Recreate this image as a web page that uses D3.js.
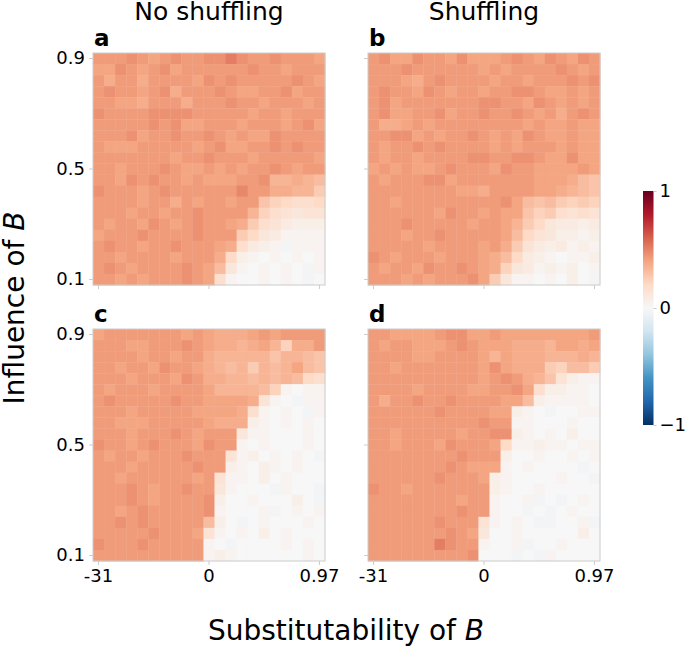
<!DOCTYPE html>
<html>
<head>
  <meta charset="utf-8">
  <title>Influence vs substitutability</title>
  <style>
    body { margin: 0; background: #fff; font-family: "DejaVu Sans", sans-serif; }
    svg { display: block; }
  </style>
</head>
<body>
  <svg width="685" height="646"></svg>
  <script src="https://d3js.org/d3.v7.min.js"></script>
  <script>
    // column categories (substitutability) and row categories (influence)
    const xIndex = [0, 1, 2, 3, 4, 5, 6, 7, 8, 9, 10, 11, 12, 13, 14, 15, 16, 17, 18, 19, 20];
    const yValues = [0.1, 0.14, 0.18, 0.22, 0.26, 0.3, 0.34, 0.38, 0.42, 0.46, 0.5,
                     0.54, 0.58, 0.62, 0.66, 0.7, 0.74, 0.78, 0.82, 0.86, 0.9];
    const xTickIndex = [0, 10, 20];
    const xTickLabels = ["-31", "0", "0.97"];
    const yTickValues = [0.1, 0.5, 0.9];
    const colTitles = ["No shuffling", "Shuffling"];
    const panelLetters = ["a", "b", "c", "d"];

    // one char per cell: 'c' = 0, each letter step ~0.0285
    const levels = "abcdefghijklmnopqrstuvw";
    const levelStep = 0.0285;

    // rows listed top (0.9) to bottom (0.1)
    const panelA = [
      "rrrsrqrsrrssusrrsrrrq",
      "qqsrqrsqrrrrrrsrrqrrr",
      "rprrprrrrqsrsrrrrrsrq",
      "rsrrqrsprrrsrqqrrsqrr",
      "rrqqprrrprrrsrrqrrrqr",
      "srrrrssssrrrrrqrrqrrr",
      "rrrrrsrsqqrrrqrrrqrsq",
      "rrrsqrrsrrsrqrqqsrrrr",
      "rqqqrrrrrqrsqqrrsrsrr",
      "rrrrrrrqrrsrrrqrrrrrq",
      "rrqrrrsrqqrqrqrrsrqrr",
      "rrqsrsrrqrqqqrrsoopon",
      "srrrqrsrrrrrrtrrppool",
      "rrrrqrrprqrrqrrmkjiij",
      "rrrqrrqrrsrrrrokihghh",
      "rqrrqsrqrsrrqplihfeee",
      "qrrrsrrrrsrrrljgfdddd",
      "rsrrqrrsrrrqpifedbddd",
      "rrqrrrrqrrrpjedcdcdcd",
      "rsrqrrrrsrqngdcdcdcbd",
      "rrqrqrrrsrqidccdcdcbc"
    ];
    const panelB = [
      "rsqqsrrqsqqqrsrqsrqsr",
      "rrrsrrrrrrqrqrrrrsrqr",
      "rrrqprsrrrrqrrqrrrsrs",
      "rsrrqsrqrrqrrssrqqrqr",
      "rsqrrrrrrrssrrqsrqrqr",
      "rsqqrrsqrrsrrsrqrprsr",
      "rppqrqrrrrrrrrqrqqrqq",
      "rrssqrqrrsrqrqsrqqrqq",
      "rqrrsrsrrrrqrqrrrqrqq",
      "rqrrqrrrrssrrssrqqsqq",
      "qrqrqqrsrrrqsrrqqqqrq",
      "rqrrrssqrrrrrrrqqqpnm",
      "rrrrrrrrqqprrrrqqponm",
      "rrqrrrrrrrrrsqnmnlklk",
      "rrrrrrqsrrqrqqmklihih",
      "rrrsrrrrrqrrqoljgffef",
      "rrrqrrsrrrrrqnjhgeede",
      "rrrrrqrrrrqrplhfefded",
      "srqrrrqrrrqpnjfedcdde",
      "rqrrqsrrsrqpkgfdedecd",
      "rrrqrqrrrsqlgddcdcecb"
    ];
    const panelC = [
      "qrrrrrrrqrqpppqrqrrrr",
      "rrrqqrrrsrqppopqokppr",
      "rrrrqrrqrrpooooomoonm",
      "rrqrrqsrrqponolonoqnm",
      "rrrqrrrqsrppoononononji".slice(0, 19) + "ji",
      "rqrrrqrrrrqoooonkdcdd",
      "rsrrrrrsrrqqqqphdcbdd",
      "rrrqrrrrrqqqqpidcdcbd",
      "rrqqqrrrrrqpppedcdcdc",
      "rrrqrrrsrqrrrgddcccdc",
      "srrqrsrrrqsrrdcdcccdc",
      "rqrrqrrrsrrrhdecdcdcb",
      "rrrqrrrrrsrredcedcdcc",
      "rrqrrrrrrqrhddcecdccc",
      "rrrsrqrrsrrgdcccbdccb",
      "rrrsrqrrrrseccdcccecb",
      "rrqrsrrrrrsdcccdbcdcd",
      "rrsrsrrrrrnecbcdcccdc",
      "rrrrrsrrrqhdcdcecdccc",
      "srrrsrrrrrdcbccccdcdc",
      "rrrrrrrrrrdedccccccdc"
    ];
    const panelD = [
      "rrqqqqrssqqrqqqqqqqqr",
      "rqrrqqqrsrqqqpppoqqpq",
      "rrrrqqrrrrqoqpppooopo",
      "rrqrrrrrrrqsqppplknnl",
      "rrrrrrrrrrqrsrpomhedd",
      "rrrrqrrrrqqrrsqieeddc",
      "rprrsrrsrrrrqqneddddc",
      "rrrrrrsrrrrqqedcbccdd",
      "rrrrrrrrrrsrrddcccdcc",
      "rrqrrrrrqrrssedcdcecc",
      "rrqrrrqsrrrqjddeddcdd",
      "rrrrrrrrsrrreccdccdcd",
      "rrrrrrrsrqqqdcdccccbc",
      "rrrrrrsrrrqedccccdccb",
      "srrqrrrrrrredccdccccc",
      "rrrrrrrrqrrdccdbcbcdc",
      "rrrrrrrrsrrdccbcbcdcc",
      "rrrrrrsrrrhdcdcbbccdb",
      "rrrrrrrsrqgccdcccccec",
      "rrrrrrusrrdccdbccdccc",
      "rrrrrrrrrscccbcbdcccc"
    ];
    const panels = [panelA, panelB, panelC, panelD];

    const svg = d3.select("svg");
    const size = 232;
    const lefts = [93, 368];
    const tops = [53, 329];
    const gridGrey = "#cccccc";

    // piecewise-linear RdBu, reversed (1 = dark red, -1 = dark blue)
    const rdbu = d3.schemeRdBu[11];
    const color = d3.scaleLinear()
      .domain(rdbu.map((_, i) => 1 - i * 0.2))
      .range(rdbu)
      .interpolate(d3.interpolateRgb)
      .clamp(true);

    const x = d3.scaleBand().domain(xIndex).range([0, size]);
    const y = d3.scaleBand().domain(yValues).range([size, 0]);

    const toValue = ch => (levels.indexOf(ch) - 2) * levelStep;

    panels.forEach((rows, p) => {
      const col = p % 2, row = Math.floor(p / 2);
      const g = svg.append("g")
        .attr("transform", `translate(${lefts[col]},${tops[row]})`);

      const cells = [];
      rows.forEach((str, r) => {
        const yv = yValues[yValues.length - 1 - r];
        str.split("").forEach((ch, c) => cells.push({ x: xIndex[c], y: yv, v: toValue(ch) }));
      });

      g.selectAll("rect.cell")
        .data(cells).enter()
        .append("rect")
        .attr("class", "cell")
        .attr("x", d => x(d.x))
        .attr("y", d => y(d.y))
        .attr("width", x.bandwidth() + 0.4)
        .attr("height", y.bandwidth() + 0.4)
        .attr("fill", d => color(d.v));

      g.append("rect")
        .attr("width", size).attr("height", size)
        .attr("fill", "none").attr("stroke", gridGrey).attr("stroke-width", 1);

      const xAxis = d3.axisBottom(x)
        .tickValues(xTickIndex)
        .tickSize(4).tickPadding(4)
        .tickFormat(d => row === 1 ? xTickLabels[xTickIndex.indexOf(d)] : "");
      const yAxis = d3.axisLeft(y)
        .tickValues(yTickValues)
        .tickSize(4).tickPadding(4)
        .tickFormat(d => col === 0 ? d3.format(".1f")(d) : "");

      [g.append("g").attr("transform", `translate(0,${size})`).call(xAxis),
       g.append("g").call(yAxis)].forEach(ax => {
        ax.attr("font-family", null).attr("font-size", null);
        ax.select(".domain").remove();
        ax.selectAll(".tick line").attr("stroke", gridGrey);
        ax.selectAll(".tick text")
          .attr("fill", "#000")
          .style("font-family", "DejaVu Sans")
          .style("font-size", "18px");
      });

      g.append("text")
        .attr("x", 1).attr("y", -7)
        .style("font-family", "DejaVu Sans")
        .style("font-weight", "bold")
        .style("font-size", "23px")
        .text(panelLetters[p]);

      if (row === 0) {
        g.append("text")
          .attr("x", size / 2).attr("y", -33)
          .attr("text-anchor", "middle")
          .style("font-family", "DejaVu Sans")
          .style("font-size", "25px")
          .text(colTitles[col]);
      }
    });

    // axis titles
    const yLab = svg.append("text")
      .attr("transform", "translate(24,308) rotate(-90)")
      .attr("text-anchor", "middle")
      .style("font-family", "DejaVu Sans")
      .style("font-size", "28px");
    yLab.append("tspan").text("Influence of ");
    yLab.append("tspan").style("font-style", "italic").text("B");

    const xLab = svg.append("text")
      .attr("x", 346).attr("y", 640)
      .attr("text-anchor", "middle")
      .style("font-family", "DejaVu Sans")
      .style("font-size", "28px");
    xLab.append("tspan").text("Substitutability of ");
    xLab.append("tspan").style("font-style", "italic").text("B");

    // colour bar
    const cbX = 643, cbY = 191, cbW = 10.5, cbH = 234;
    const cbScale = d3.scaleLinear().domain([-1, 1]).range([cbH, 0]);
    const grad = svg.append("defs").append("linearGradient")
      .attr("id", "cb").attr("x1", 0).attr("y1", 1).attr("x2", 0).attr("y2", 0);
    d3.range(0, 1.0001, 0.05).forEach(t => {
      grad.append("stop").attr("offset", t).attr("stop-color", color(-1 + 2 * t));
    });
    const cb = svg.append("g").attr("transform", `translate(${cbX},${cbY})`);
    cb.append("rect").attr("width", cbW).attr("height", cbH).attr("fill", "url(#cb)");
    const cbAxis = d3.axisRight(cbScale)
      .tickValues([-1, 0, 1]).tickSize(3).tickPadding(3)
      .tickFormat(d => d < 0 ? "\u22121" : String(d));
    const cbg = cb.append("g").attr("transform", `translate(${cbW},0)`).call(cbAxis);
    cbg.attr("font-family", null).attr("font-size", null);
    cbg.select(".domain").remove();
    cbg.selectAll(".tick line").attr("stroke", gridGrey);
    cbg.selectAll(".tick text")
      .attr("fill", "#000")
      .style("font-family", "DejaVu Sans")
      .style("font-size", "18px");
  </script>
</body>
</html>
